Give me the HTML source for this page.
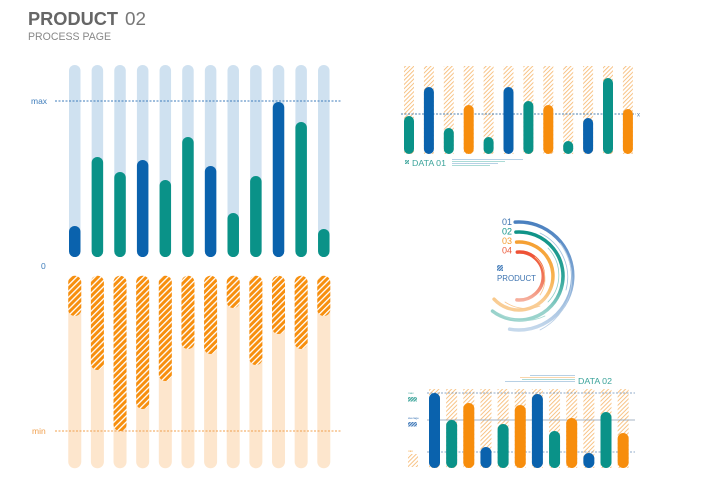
<!DOCTYPE html>
<html><head><meta charset="utf-8"><style>
html,body{margin:0;padding:0;background:#fff;}
svg{display:block;}
text{font-family:"Liberation Sans",sans-serif;}
</style></head><body>
<svg width="707" height="500" viewBox="0 0 707 500" xmlns="http://www.w3.org/2000/svg">
<defs>
<pattern id="hb" width="4.3" height="4.3" patternUnits="userSpaceOnUse" patternTransform="rotate(45)">
<rect width="4.3" height="4.3" fill="#f78f0e"/><rect width="1.3" height="4.3" fill="#fff"/>
</pattern>
<pattern id="hl" width="3" height="3" patternUnits="userSpaceOnUse" patternTransform="rotate(45)">
<rect width="3" height="3" fill="#fff"/><rect width="0.9" height="3" fill="#f7bd7a"/>
</pattern>
<pattern id="ht" width="2" height="2" patternUnits="userSpaceOnUse" patternTransform="rotate(45)">
<rect width="2" height="2" fill="#cfe9e6"/><rect width="1" height="2" fill="#3aa39a"/>
</pattern>
<pattern id="hbl" width="2" height="2" patternUnits="userSpaceOnUse" patternTransform="rotate(45)">
<rect width="2" height="2" fill="#d3e2f1"/><rect width="1" height="2" fill="#3c75b5"/>
</pattern>
<linearGradient id="g1" gradientUnits="userSpaceOnUse" x1="0" y1="222" x2="0" y2="330"><stop offset="0" stop-color="#4a80bf"/><stop offset="0.5" stop-color="#7ea6d3"/><stop offset="1" stop-color="#c6d9ec"/></linearGradient>
<linearGradient id="g2" gradientUnits="userSpaceOnUse" x1="0" y1="232" x2="0" y2="312"><stop offset="0" stop-color="#0f9387"/><stop offset="0.55" stop-color="#2aa398"/><stop offset="1" stop-color="#9ad3cc"/></linearGradient>
<linearGradient id="g3" gradientUnits="userSpaceOnUse" x1="0" y1="242" x2="0" y2="302"><stop offset="0" stop-color="#f5a033"/><stop offset="0.6" stop-color="#f7b24f"/><stop offset="1" stop-color="#f9cd95"/></linearGradient>
<linearGradient id="g4" gradientUnits="userSpaceOnUse" x1="0" y1="252" x2="0" y2="300"><stop offset="0" stop-color="#ee5135"/><stop offset="0.6" stop-color="#f07a5e"/><stop offset="1" stop-color="#f6b09e"/></linearGradient>
</defs>

<!-- Title -->
<text x="28" y="25" font-size="18" fill="#666" font-weight="bold" textLength="90" lengthAdjust="spacingAndGlyphs">PRODUCT</text>
<text x="125" y="25" font-size="18" fill="#777" textLength="21" lengthAdjust="spacingAndGlyphs">02</text>
<text x="28" y="40" font-size="11" fill="#888" textLength="83" lengthAdjust="spacingAndGlyphs">PROCESS PAGE</text>

<!-- Top-left panel -->
<g fill="#cfe1f0">
<rect x="69" y="65" width="11.5" height="192" rx="5.75"/>
<rect x="91.64" y="65" width="11.5" height="192" rx="5.75"/>
<rect x="114.28" y="65" width="11.5" height="192" rx="5.75"/>
<rect x="136.92" y="65" width="11.5" height="192" rx="5.75"/>
<rect x="159.56" y="65" width="11.5" height="192" rx="5.75"/>
<rect x="182.2" y="65" width="11.5" height="192" rx="5.75"/>
<rect x="204.84" y="65" width="11.5" height="192" rx="5.75"/>
<rect x="227.48" y="65" width="11.5" height="192" rx="5.75"/>
<rect x="250.12" y="65" width="11.5" height="192" rx="5.75"/>
<rect x="272.76" y="65" width="11.5" height="192" rx="5.75"/>
<rect x="295.4" y="65" width="11.5" height="192" rx="5.75"/>
<rect x="318.04" y="65" width="11.5" height="192" rx="5.75"/>
</g>
<line x1="55" y1="101" x2="342" y2="101" stroke="#3f7dbb" stroke-width="1" stroke-dasharray="2 1.5"/>
<rect x="69" y="226" width="11.5" height="31" rx="5.75" fill="#0a62ad"/>
<rect x="91.64" y="157" width="11.5" height="100" rx="5.75" fill="#0a9288"/>
<rect x="114.28" y="172" width="11.5" height="85" rx="5.75" fill="#0a9288"/>
<rect x="136.92" y="160" width="11.5" height="97" rx="5.75" fill="#0a62ad"/>
<rect x="159.56" y="180" width="11.5" height="77" rx="5.75" fill="#0a9288"/>
<rect x="182.2" y="137" width="11.5" height="120" rx="5.75" fill="#0a9288"/>
<rect x="204.84" y="166" width="11.5" height="91" rx="5.75" fill="#0a62ad"/>
<rect x="227.48" y="213" width="11.5" height="44" rx="5.75" fill="#0a9288"/>
<rect x="250.12" y="176" width="11.5" height="81" rx="5.75" fill="#0a9288"/>
<rect x="272.76" y="102" width="11.5" height="155" rx="5.75" fill="#0a62ad"/>
<rect x="295.4" y="122" width="11.5" height="135" rx="5.75" fill="#0a9288"/>
<rect x="318.04" y="229" width="11.5" height="28" rx="5.75" fill="#0a9288"/>
<text x="31" y="104" font-size="8.5" fill="#3f7dbb">max</text>
<text x="41" y="269" font-size="8.5" fill="#3f7dbb">0</text>

<!-- Bottom-left panel -->
<g fill="#fde6cd">
<rect x="68.25" y="275.7" width="13" height="192.6" rx="6.5"/>
<rect x="90.89" y="275.7" width="13" height="192.6" rx="6.5"/>
<rect x="113.53" y="275.7" width="13" height="192.6" rx="6.5"/>
<rect x="136.17" y="275.7" width="13" height="192.6" rx="6.5"/>
<rect x="158.81" y="275.7" width="13" height="192.6" rx="6.5"/>
<rect x="181.45" y="275.7" width="13" height="192.6" rx="6.5"/>
<rect x="204.09" y="275.7" width="13" height="192.6" rx="6.5"/>
<rect x="226.73" y="275.7" width="13" height="192.6" rx="6.5"/>
<rect x="249.37" y="275.7" width="13" height="192.6" rx="6.5"/>
<rect x="272.01" y="275.7" width="13" height="192.6" rx="6.5"/>
<rect x="294.65" y="275.7" width="13" height="192.6" rx="6.5"/>
<rect x="317.29" y="275.7" width="13" height="192.6" rx="6.5"/>
</g>
<line x1="55" y1="431" x2="342" y2="431" stroke="#f0a04e" stroke-width="1" stroke-dasharray="2 1.5"/>
<g fill="url(#hb)">
<rect x="68.25" y="275.7" width="13" height="40.3" rx="6.5"/>
<rect x="90.89" y="275.7" width="13" height="94.3" rx="6.5"/>
<rect x="113.53" y="275.7" width="13" height="155.3" rx="6.5"/>
<rect x="136.17" y="275.7" width="13" height="133.3" rx="6.5"/>
<rect x="158.81" y="275.7" width="13" height="105.3" rx="6.5"/>
<rect x="181.45" y="275.7" width="13" height="73.3" rx="6.5"/>
<rect x="204.09" y="275.7" width="13" height="78.3" rx="6.5"/>
<rect x="226.73" y="275.7" width="13" height="32.3" rx="6.5"/>
<rect x="249.37" y="275.7" width="13" height="89.3" rx="6.5"/>
<rect x="272.01" y="275.7" width="13" height="58.3" rx="6.5"/>
<rect x="294.65" y="275.7" width="13" height="73.3" rx="6.5"/>
<rect x="317.29" y="275.7" width="13" height="40.3" rx="6.5"/>
</g>
<text x="32" y="434" font-size="8.5" fill="#f0a04e">min</text>

<!-- Top-right panel -->
<g fill="url(#hl)">
<rect x="404" y="66" width="10" height="88"/>
<rect x="423.9" y="66" width="10" height="88"/>
<rect x="443.8" y="66" width="10" height="88"/>
<rect x="463.7" y="66" width="10" height="88"/>
<rect x="483.6" y="66" width="10" height="88"/>
<rect x="503.5" y="66" width="10" height="88"/>
<rect x="523.4" y="66" width="10" height="88"/>
<rect x="543.3" y="66" width="10" height="88"/>
<rect x="563.2" y="66" width="10" height="88"/>
<rect x="583.1" y="66" width="10" height="88"/>
<rect x="603" y="66" width="10" height="88"/>
<rect x="622.9" y="66" width="10" height="88"/>
</g>
<line x1="401" y1="114" x2="636" y2="114" stroke="#4d7fae" stroke-width="0.9" stroke-dasharray="2 1.5"/>
<text x="637" y="116.5" font-size="6" fill="#4d7fae">x</text>
<rect x="404" y="116" width="10" height="38" rx="5" fill="#0a9288"/>
<rect x="423.9" y="87" width="10" height="67" rx="5" fill="#0a62ad"/>
<rect x="443.8" y="128" width="10" height="26" rx="5" fill="#0a9288"/>
<rect x="463.7" y="105" width="10" height="49" rx="5" fill="#f78d0c"/>
<rect x="483.6" y="137" width="10" height="17" rx="5" fill="#0a9288"/>
<rect x="503.5" y="87" width="10" height="67" rx="5" fill="#0a62ad"/>
<rect x="523.4" y="101" width="10" height="53" rx="5" fill="#0a9288"/>
<rect x="543.3" y="105" width="10" height="49" rx="5" fill="#f78d0c"/>
<rect x="563.2" y="141" width="10" height="13" rx="5" fill="#0a9288"/>
<rect x="583.1" y="118" width="10" height="36" rx="5" fill="#0a62ad"/>
<rect x="603" y="78" width="10" height="76" rx="5" fill="#0a9288"/>
<rect x="622.9" y="109" width="10" height="45" rx="5" fill="#f78d0c"/>
<rect x="405" y="160" width="4" height="4" fill="url(#ht)"/>
<text x="412" y="166" font-size="8.5" fill="#3aa39a" textLength="34" lengthAdjust="spacingAndGlyphs">DATA 01</text>
<g stroke-width="0.7">
<line x1="452" y1="159.5" x2="523" y2="159.5" stroke="#9fc0dd"/>
<line x1="452" y1="161.5" x2="505" y2="161.5" stroke="#8fcfc8"/>
<line x1="452" y1="163.5" x2="498" y2="163.5" stroke="#9fc0dd"/>
<line x1="452" y1="165.5" x2="490" y2="165.5" stroke="#8fcfc8"/>
</g>

<!-- Circle -->
<g fill="none" stroke-linecap="round">
<path d="M515.2 222.1 A54 54 0 1 1 509.6 329.2" stroke="url(#g1)" stroke-width="3.5"/>
<path d="M515.9 232.1 A44 44 0 1 1 492.5 311.1" stroke="url(#g2)" stroke-width="3.5"/>
<path d="M516.6 242.1 A34 34 0 1 1 494.1 299.2" stroke="url(#g3)" stroke-width="3.5"/>
<path d="M517.3 252.1 A24 24 0 1 1 516.9 299.9" stroke="url(#g4)" stroke-width="3.5"/>
<path d="M560 243 A58 58 0 0 1 540 330" stroke="#b9cfe6" stroke-width="0.8"/>
<path d="M540 233 A49 49 0 0 1 566 290" stroke="#9fc0de" stroke-width="0.8"/>
<path d="M548 248 A39 39 0 0 1 548 302" stroke="#8fcfc8" stroke-width="0.8"/>
<path d="M500 314 A48 48 0 0 0 545 316" stroke="#a9dad4" stroke-width="0.8"/>
<path d="M535 257 A29 29 0 0 1 540 295" stroke="#f9c890" stroke-width="0.8"/>
<path d="M505 302 A38 38 0 0 0 540 306" stroke="#f9c890" stroke-width="0.8"/>
</g>
<text x="502" y="225" font-size="9" fill="#3d73b0">01</text>
<text x="502" y="234.5" font-size="9" fill="#12958a">02</text>
<text x="502" y="244" font-size="9" fill="#f39c2e">03</text>
<text x="502" y="253.5" font-size="9" fill="#ec5a3a">04</text>
<rect x="497" y="265" width="6" height="6" fill="url(#hbl)"/>
<text x="497" y="281" font-size="8.5" fill="#3d73b0" textLength="39" lengthAdjust="spacingAndGlyphs">PRODUCT</text>

<!-- Bottom-right panel -->
<g fill="url(#hl)">
<rect x="429" y="389" width="11" height="79"/>
<rect x="446.15" y="389" width="11" height="79"/>
<rect x="463.3" y="389" width="11" height="79"/>
<rect x="480.45" y="389" width="11" height="79"/>
<rect x="497.6" y="389" width="11" height="79"/>
<rect x="514.75" y="389" width="11" height="79"/>
<rect x="531.9" y="389" width="11" height="79"/>
<rect x="549.05" y="389" width="11" height="79"/>
<rect x="566.2" y="389" width="11" height="79"/>
<rect x="583.35" y="389" width="11" height="79"/>
<rect x="600.5" y="389" width="11" height="79"/>
<rect x="617.65" y="389" width="11" height="79"/>
</g>
<line x1="427" y1="393" x2="635" y2="393" stroke="#6a8fb8" stroke-width="0.8" stroke-dasharray="2 1.5"/>
<line x1="427" y1="420" x2="635" y2="420" stroke="#8a9db0" stroke-width="0.8"/>
<line x1="427" y1="452" x2="635" y2="452" stroke="#6a8fb8" stroke-width="0.8" stroke-dasharray="2 1.5"/>
<rect x="429" y="393" width="11" height="75" rx="5.5" fill="#0a62ad"/>
<rect x="446.15" y="420" width="11" height="48" rx="5.5" fill="#0a9288"/>
<rect x="463.3" y="403" width="11" height="65" rx="5.5" fill="#f78d0c"/>
<rect x="480.45" y="447" width="11" height="21" rx="5.5" fill="#0a62ad"/>
<rect x="497.6" y="424" width="11" height="44" rx="5.5" fill="#0a9288"/>
<rect x="514.75" y="405" width="11" height="63" rx="5.5" fill="#f78d0c"/>
<rect x="531.9" y="394" width="11" height="74" rx="5.5" fill="#0a62ad"/>
<rect x="549.05" y="431" width="11" height="37" rx="5.5" fill="#0a9288"/>
<rect x="566.2" y="418" width="11" height="50" rx="5.5" fill="#f78d0c"/>
<rect x="583.35" y="453" width="11" height="15" rx="5.5" fill="#0a62ad"/>
<rect x="600.5" y="412" width="11" height="56" rx="5.5" fill="#0a9288"/>
<rect x="617.65" y="433" width="11" height="35" rx="5.5" fill="#f78d0c"/>
<text x="408" y="394" font-size="3" fill="#3aa39a">max</text>
<rect x="408" y="397" width="9" height="4.5" fill="url(#ht)"/>
<text x="408" y="419" font-size="3" fill="#3c75b5">average</text>
<rect x="408" y="422" width="9" height="4.5" fill="url(#hbl)"/>
<text x="408" y="452" font-size="3" fill="#f39c2e">min</text>
<rect x="408" y="454" width="10" height="13" fill="url(#hl)"/>
<g stroke-width="0.7">
<line x1="530" y1="375.5" x2="575" y2="375.5" stroke="#9fc0dd"/>
<line x1="520" y1="377.5" x2="575" y2="377.5" stroke="#f9c890"/>
<line x1="522" y1="379.5" x2="575" y2="379.5" stroke="#8fcfc8"/>
<line x1="505" y1="381.5" x2="575" y2="381.5" stroke="#9fc0dd"/>
</g>
<text x="578" y="384" font-size="8.5" fill="#3aa39a" textLength="34" lengthAdjust="spacingAndGlyphs">DATA 02</text>
</svg>
</body></html>
